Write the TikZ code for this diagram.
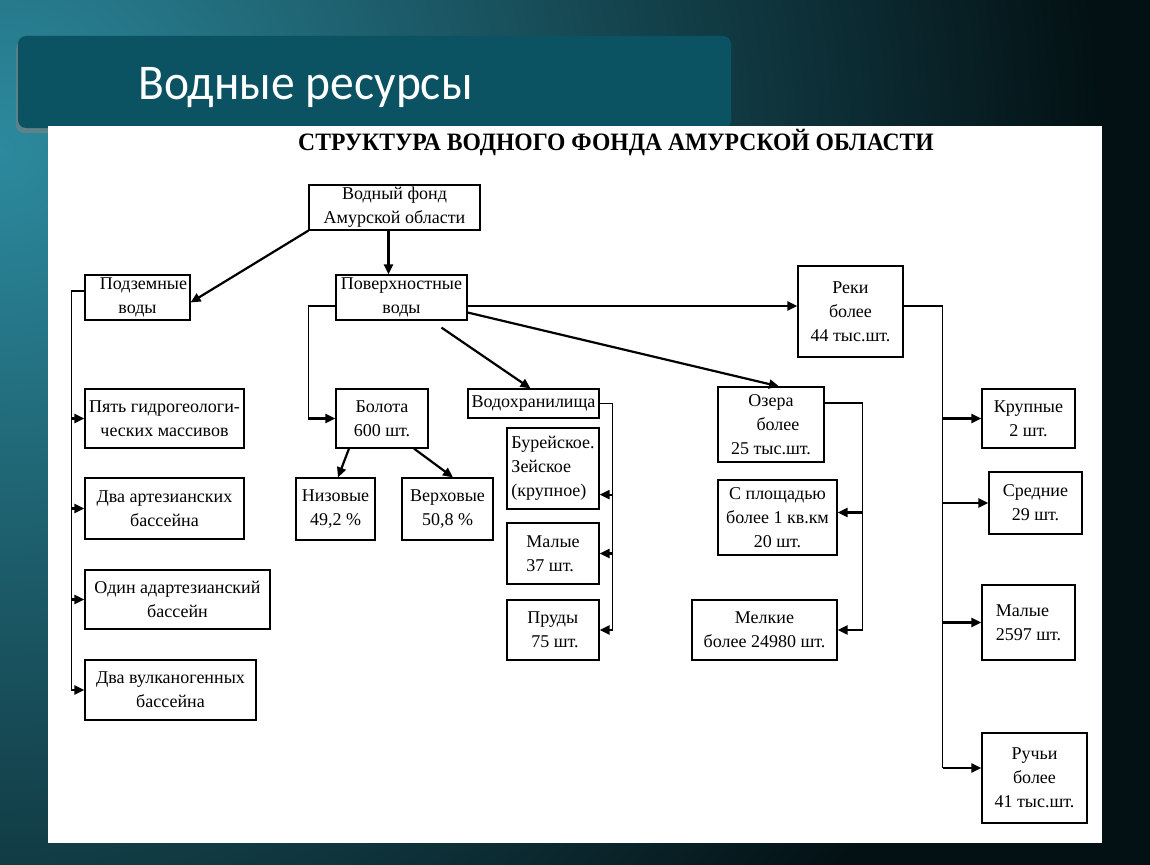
\documentclass[tikz,border=0pt]{standalone}
\usepackage{fontspec}
\setmainfont{Liberation Serif}
\newfontfamily\slidefont{Carlito}
\usepackage{tikz}
\usetikzlibrary{arrows.meta,shadows}

\definecolor{bgleft}{HTML}{2C8A9E}
\definecolor{bgright}{HTML}{031114}
\definecolor{headbox}{HTML}{0B5263}
\pgfdeclareradialshading{slidebg}{\pgfpoint{0bp}{0bp}}{color(0bp)=(bgleft); color(20bp)=(bgright); color(25bp)=(bgright); color(50bp)=(bgright)}

\newcommand\boxfont{\fontsize{18}{24}\selectfont}

\begin{document}
\begin{tikzpicture}[x=1pt,y=-1pt]
\tikzstyle{box}=[draw, line width=1.2pt, inner sep=2pt, font=\boxfont, align=center]
\tikzstyle{arr}=[line width=2.2pt, -{Triangle[length=10pt,width=9pt]}]
\tikzstyle{link}=[line width=1.3pt]
\useasboundingbox (0,0) rectangle (1150,864);
% slide background
\begin{scope}
\clip (0,0) rectangle (1150,864);
\shade [shading=slidebg] (0,150) circle (1375);
\end{scope}
\fill [headbox, rounded corners=8pt, drop shadow={shadow xshift=-2pt, shadow yshift=-5pt, opacity=0.6}] (18,36) rectangle (731,128);
\node [anchor=base west, text=white, xscale=0.95, font=\slidefont\fontsize{50}{60}\selectfont] (slidetitle) at (135,100) {Водные ресурсы};
\fill [white] (48,126) rectangle (1102,843);
\node [xscale=0.945, font=\bfseries\fontsize{25}{30}\selectfont] (heading) at (616,143) {СТРУКТУРА ВОДНОГО ФОНДА АМУРСКОЙ ОБЛАСТИ};
% top level
\node [box, minimum width=171, minimum height=45] (fond) at (394.5,207.5) {Водный фонд\\Амурской области};
\node [box, minimum width=105, minimum height=45] (podzem) at (137.5,297.5) {\hspace*{12pt}Подземные\\воды};
\node [box, minimum width=131, minimum height=45] (poverkh) at (401.5,297.5) {Поверхностные\\воды};
\node [box, minimum width=105, minimum height=91] (reki) at (850.5,311.5) {Реки\\более\\44 тыс.шт.};
% underground waters
\node [box, minimum width=159, minimum height=59] (pyat) at (164.5,418.5) {Пять гидрогеологи-\\ческих массивов};
\node [box, minimum width=159, minimum height=61] (dvaart) at (164.5,508.5) {Два артезианских\\бассейна};
\node [box, minimum width=185, minimum height=59] (odin) at (177.5,599.5) {Один адартезианский\\бассейн};
\node [box, minimum width=171, minimum height=60] (dvavulk) at (170.5,690) {Два вулканогенных\\бассейна};
% swamps
\node [box, minimum width=92, minimum height=59] (bolota) at (382,418.5) {Болота\\600 шт.};
\node [box, minimum width=79, minimum height=62] (nizov) at (335.5,509) {Низовые\\49,2 \%};
\node [box, minimum width=91, minimum height=62] (verkh) at (447.5,509) {Верховые\\50,8 \%};
% reservoirs
\node [box, minimum width=131, minimum height=29] (vodokhr) at (533.5,403.5) {Водохранилища};
\node [box, minimum width=92, minimum height=81, align=left] (bur) at (553,468.5) {Бурейское.\\Зейское\\(крупное)};
\node [box, minimum width=92, minimum height=61, align=left] (malsh) at (553,553.5) {Малые\\37 шт.};
\node [box, minimum width=92, minimum height=60, align=left] (prudy) at (553,630) {Пруды\\\hspace*{4pt}75 шт.};
% lakes
\node [box, minimum width=106, minimum height=75] (ozera) at (771,424.5) {Озера\\\hspace*{14pt}более\\25 тыс.шт.};
\node [box, minimum width=119, minimum height=75] (splosh) at (777.5,517.5) {С площадью\\более 1 кв.км\\20 шт.};
\node [box, minimum width=145, minimum height=60] (melkie) at (764.5,630) {Мелкие\\более 24980 шт.};
% rivers
\node [box, minimum width=93, minimum height=59] (krupn) at (1028.5,418.5) {Крупные\\2 шт.};
\node [box, minimum width=93, minimum height=62] (sredn) at (1035.5,503) {Средние\\29 шт.};
\node [box, minimum width=93, minimum height=75, align=left] (malrek) at (1028.5,622.5) {Малые\\2597 шт.};
\node [box, minimum width=105, minimum height=90] (ruchyi) at (1034.5,778) {Ручьи\\более\\41 тыс.шт.};
% entry points that sit off the box centres
\coordinate (burin) at ([yshift=15pt]bur.south east);
\coordinate (sploshin) at ([yshift=5pt]splosh.east);
\coordinate (ruchyiin) at ([yshift=10pt]ruchyi.west);
% connectors from the fund
\draw [arr] ([xshift=-6pt]fond.south) -- ([xshift=-6pt]fond.south |- poverkh.north);
\draw [arr] (fond.south west) -- ([yshift=-5pt]podzem.east);
\draw [arr] ([yshift=-8.5pt]poverkh.east) -- ([yshift=-8.5pt]poverkh.east -| reki.west);
\draw [arr] ([yshift=-15pt]poverkh.east) -- ([xshift=8pt]ozera.north);
\draw [arr] ([xshift=40pt,yshift=-7pt]poverkh.south) -- ([xshift=-3pt]vodokhr.north);
% underground branch
\draw [link] ([yshift=6.5pt]podzem.west) -- ++(-13,0) coordinate (pbus) -- (pbus |- dvavulk.west);
\foreach \n in {pyat,dvaart,odin,dvavulk}
  \draw [arr] (pbus |- \n.west) -- (\n.west);
% swamps branch
\draw [link] ([yshift=-8.5pt]poverkh.west) -- ++(-27,0) coordinate (sbus) -- (sbus |- bolota.west);
\draw [arr] (sbus |- bolota.west) -- (bolota.west);
\draw [arr] ([xshift=-33pt]bolota.south) -- ([xshift=2.5pt]nizov.north);
\draw [arr] ([xshift=32pt]bolota.south) -- ([xshift=5.5pt]verkh.north);
% reservoirs branch
\draw [link] (vodokhr.east) -- ++(13,0) coordinate (vbus) -- (vbus |- prudy.east);
\draw [arr] (vbus |- burin) -- (burin);
\foreach \n in {malsh,prudy}
  \draw [arr] (vbus |- \n.east) -- (\n.east);
% lakes branch
\draw [link] ([yshift=21.5pt]ozera.east) -- ++(38,0) coordinate (obus) -- (obus |- melkie.east);
\draw [arr] (obus |- sploshin) -- (sploshin);
\draw [arr] (obus |- melkie.east) -- (melkie.east);
% rivers branch
\draw [link] ([yshift=5.5pt]reki.east) -- ++(39,0) coordinate (rbus) -- (rbus |- ruchyiin);
\foreach \n in {krupn,sredn,malrek}
  \draw [arr] (rbus |- \n.west) -- (\n.west);
\draw [arr] (rbus |- ruchyiin) -- (ruchyiin);
\end{tikzpicture}
\end{document}
